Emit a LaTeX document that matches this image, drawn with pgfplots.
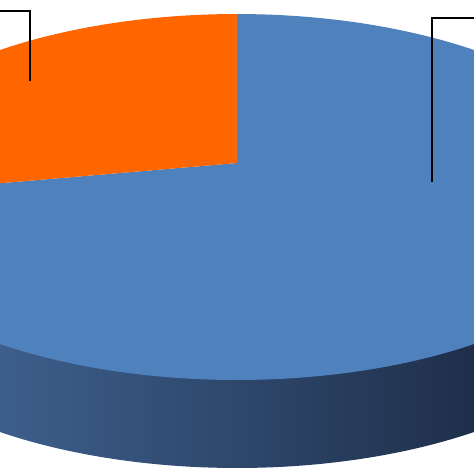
\documentclass[border=0pt]{standalone}
\usepackage{pgfplots}
\usepackage{pgfplotstable}
\pgfplotsset{compat=1.18}

\definecolor{pieblue}{RGB}{79,129,189}
\definecolor{pieorange}{RGB}{255,102,0}
\definecolor{sideleft}{RGB}{71,111,162}
\definecolor{sideright}{RGB}{21,31,52}

% share of each slice
\pgfplotstableread{
label value
A 25
B 75
}\piedata

\begin{document}
\begin{tikzpicture}
\pgfplotstablegetelem{0}{value}\of\piedata \let\va\pgfplotsretval
\pgfplotstablegetelem{1}{value}\of\piedata \let\vb\pgfplotsretval
\pgfmathsetmacro\sa{90}
\pgfmathsetmacro\sb{90+360*\va/(\va+\vb)}
\pgfmathsetmacro\sc{90+360}
\fill[white] (0,0) rectangle (474bp,474bp);
\path[use as bounding box] (0,0) rectangle (474bp,474bp);
\begin{axis}[
  at={(0,0)}, anchor=south west,
  x=1bp, y=1bp, y dir=reverse,
  xmin=0, xmax=474, ymin=0, ymax=474,
  hide axis, clip=true,
]
  % side of the pie
  \addplot[draw=none, left color=sideleft, right color=sideright, domain=180:360, samples=120]
    ({237+398*cos(x)},{285-183*sin(x)}) -- (axis cs:635,197) -- (axis cs:-161,197) -- cycle;
  % top face: blue slice
  \addplot[draw=none, fill=pieblue, domain=\sb:\sc, samples=160]
    ({237+398*cos(x)},{197-183*sin(x)}) -- (axis cs:237,163) -- cycle;
  % top face: orange slice
  \addplot[draw=none, fill=pieorange, domain=\sa:\sb, samples=80]
    ({237+398*cos(x)},{197-183*sin(x)}) -- (axis cs:237,163) -- cycle;
  % leader lines
  \addplot[black, line width=1.3pt] coordinates {(0,11) (30,11) (30,81)};
  \addplot[black, line width=1.3pt] coordinates {(474,18) (432,18) (432,182)};
\end{axis}
\end{tikzpicture}
\end{document}
